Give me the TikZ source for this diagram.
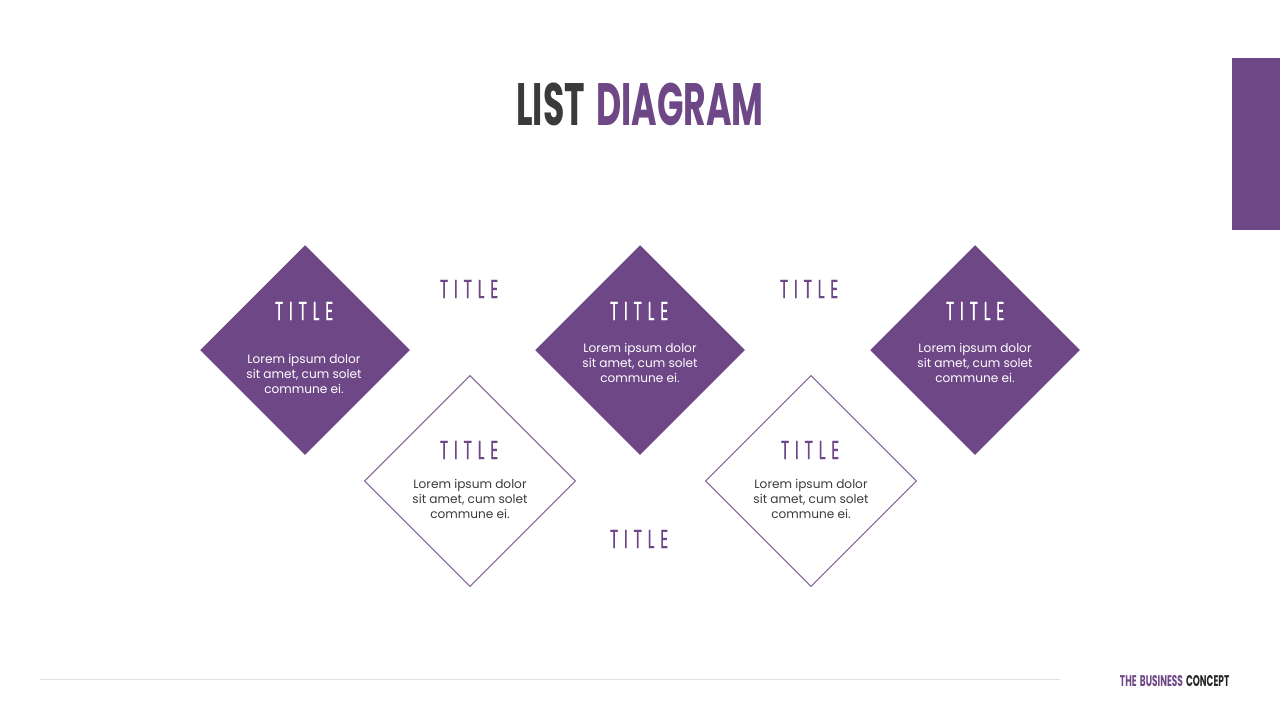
\documentclass[tikz,border=0pt]{standalone}
\usepackage{fontspec}
\setmainfont{Poppins}
\newfontfamily\headfont{Poppins}[FakeStretch=0.58]
\newfontfamily\capfont{Poppins}[FakeStretch=0.6,LetterSpace=22,FakeBold=0.7]
\usetikzlibrary{shapes.geometric,positioning}
\definecolor{plum}{HTML}{6E4787}
\definecolor{ink}{HTML}{3A3A3A}
\tikzset{
    full/.style={diamond,aspect=1,minimum size=2.1cm,inner sep=0pt,fill=plum},
    hollow/.style={diamond,aspect=1,minimum size=2.11cm,inner sep=0pt,draw=plum!85,line width=0.3pt},
    head/.style={font=\capfont\fontsize{7.4}{8}\selectfont},
    blurb/.style={align=center,inner sep=0pt,font=\fontsize{3.45}{4.15}\selectfont},
}
\begin{document}
\begin{tikzpicture}[x=0.01cm,y=-0.01cm]
        \useasboundingbox (0,0) rectangle (1280,720);
        % heading and side bar
        \node (heading) at (640,104) {\headfont\bfseries\fontsize{17}{18}\selectfont
            \textcolor{ink}{LIST}\hspace{3.2pt}\textcolor{plum}{DIAGRAM}};
        \fill[plum] (1232,58) rectangle (1280,230);
        % filled diamonds
        \begin{scope}
            \node[full] (fillA) at (305,350) {};
            \node[head,text=white] (headA) at (304,311) {TITLE};
            \node[blurb,text=white] (textA) at (304,374) {Lorem ipsum dolor\\sit amet, cum solet\\commune ei.};
            \node[full] (fillB) at (640,350) {};
            \node[head,text=white] (headB) at (639,311) {TITLE};
            \node[blurb,text=white] (textB) at (640,363) {Lorem ipsum dolor\\sit amet, cum solet\\commune ei.};
            \node[full] (fillC) at (975,350) {};
            \node[head,text=white] (headC) at (975,311) {TITLE};
            \node[blurb,text=white] (textC) at (975,363) {Lorem ipsum dolor\\sit amet, cum solet\\commune ei.};
        \end{scope}
        % outlined diamonds
        \begin{scope}
            \node[hollow] (lineA) at (470,481) {};
            \node[head,text=plum] (headD) at (469,450) {TITLE};
            \node[blurb,text=ink] (textD) at (470,499) {Lorem ipsum dolor\\sit amet, cum solet\\commune ei.};
            \node[hollow] (lineB) at (811,481) {};
            \node[head,text=plum] (headE) at (810,450) {TITLE};
            \node[blurb,text=ink] (textE) at (811,499) {Lorem ipsum dolor\\sit amet, cum solet\\commune ei.};
        \end{scope}
        % loose titles
        \node[head,text=plum] (gapA) at (469,289) {TITLE};
        \node[head,text=plum] (gapB) at (809,289) {TITLE};
        \node[head,text=plum] (gapC) at (639,539) {TITLE};
        % footer
        \coordinate (ruleL) at (40,679);
        \coordinate (ruleR) at (1060,679);
        \draw[black!12,line width=0.3pt] (ruleL) -- (ruleR);
        \node[anchor=east,inner sep=0pt] (brand) at (1230,681) {\headfont\bfseries\fontsize{4.4}{5}\selectfont
            \textcolor{plum}{THE\hspace{0.9pt}BUSINESS}\hspace{0.9pt}\textcolor{black!85}{CONCEPT}};
    \end{tikzpicture}
\end{document}
